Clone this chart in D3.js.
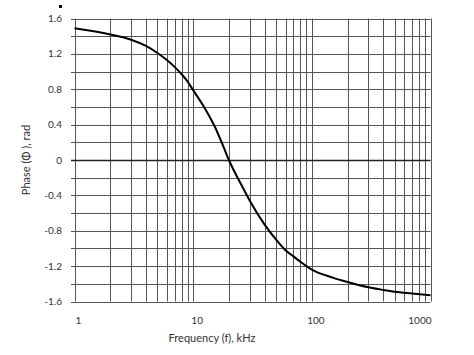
<!DOCTYPE html>
<html><head><meta charset="utf-8">
<script src="https://cdn.jsdelivr.net/npm/d3@7"></script>
<style>body{margin:0;background:#fff}svg{display:block}text{font-family:Lato,"Liberation Sans",sans-serif;fill:#333}</style>
</head><body><svg id="c" width="474" height="355"></svg>
<script>
const freq  = [1, 2, 3, 4, 5, 6, 7, 8, 9, 10, 12.6, 15.3, 18, 20, 25, 30, 40, 50, 60, 70, 80, 90, 100, 150, 200, 300, 400, 500, 700, 1000];
const phase = [1.49, 1.42, 1.36, 1.29, 1.21, 1.13, 1.05, 0.97, 0.885, 0.79, 0.58, 0.37, 0.15, 0.0, -0.26, -0.46, -0.73, -0.9, -1.02, -1.09, -1.15, -1.2, -1.24, -1.33, -1.38, -1.44, -1.47, -1.49, -1.51, -1.53];
const xTickLabels = [1, 10, 100, 1000];
const yTickLabels = [1.6, 1.2, 0.8, 0.4, 0, -0.4, -0.8, -1.2, -1.6];
const yGrid = d3.range(-1.6, 1.61, 0.2).map(v => +v.toFixed(1));
const xTitle = "Frequency (f), kHz";
const yTitle = "Phase (\u03A6 ), rad";

const svg = d3.select("#c");
const L = 74.5, R = 430.5, T = 18.5, B = 301.5;
const x = d3.scaleLog().domain([1, 1000]).range([L, R]);
const y = d3.scaleLinear().domain([-1.6, 1.6]).range([B, T]);

// vertical grid: 1..9 per decade
const xGrid = [];
[1, 10, 100].forEach(d => { for (let k = 1; k <= 9; k++) xGrid.push(d * k); });
xGrid.push(1000);
svg.append("g").selectAll("line").data(xGrid).join("line")
  .attr("x1", d => Math.round(x(d)) + 0.5).attr("x2", d => Math.round(x(d)) + 0.5)
  .attr("y1", T).attr("y2", B).attr("stroke", "#555").attr("stroke-width", 1);

// horizontal grid
svg.append("g").selectAll("line").data(yGrid).join("line")
  .attr("x1", L - 3.5).attr("x2", R)
  .attr("y1", d => Math.round(y(d)) + 0.5).attr("y2", d => Math.round(y(d)) + 0.5)
  .attr("stroke", d => d === 0 ? "#222" : "#555").attr("stroke-width", d => d === 0 ? 1.6 : 1);

// y tick labels
svg.append("g").selectAll("text").data(yTickLabels).join("text")
  .attr("x", 62).attr("y", d => y(d) + 3.5).attr("text-anchor", "end")
  .attr("font-size", 10).text(d => d === 0 ? "0" : d.toFixed(1));

// x tick labels
svg.append("g").selectAll("text").data(xTickLabels).join("text")
  .attr("x", (d, i) => i === xTickLabels.length - 1 ? x(d) + 1 : x(d) + 4)
  .attr("y", 324)
  .attr("text-anchor", (d, i) => i === xTickLabels.length - 1 ? "end" : "middle")
  .attr("font-size", 10).text(d => d);

// curve
const line = d3.line().x((d, i) => x(freq[i])).y(d => y(d)).curve(d3.curveMonotoneX);
svg.append("path").datum(phase).attr("d", line)
  .attr("fill", "none").attr("stroke", "#000").attr("stroke-width", 2);

// titles
svg.append("text").attr("x", 212).attr("y", 342).attr("text-anchor", "middle")
  .attr("font-size", 11).text(xTitle);
svg.append("text").attr("transform", "translate(30,160) rotate(-90)").attr("text-anchor", "middle")
  .attr("font-size", 11).text(yTitle);

// small marker at top-left
svg.append("rect").attr("x", 59).attr("y", 5).attr("width", 3).attr("height", 3).attr("fill", "#000");
</script></body></html>
